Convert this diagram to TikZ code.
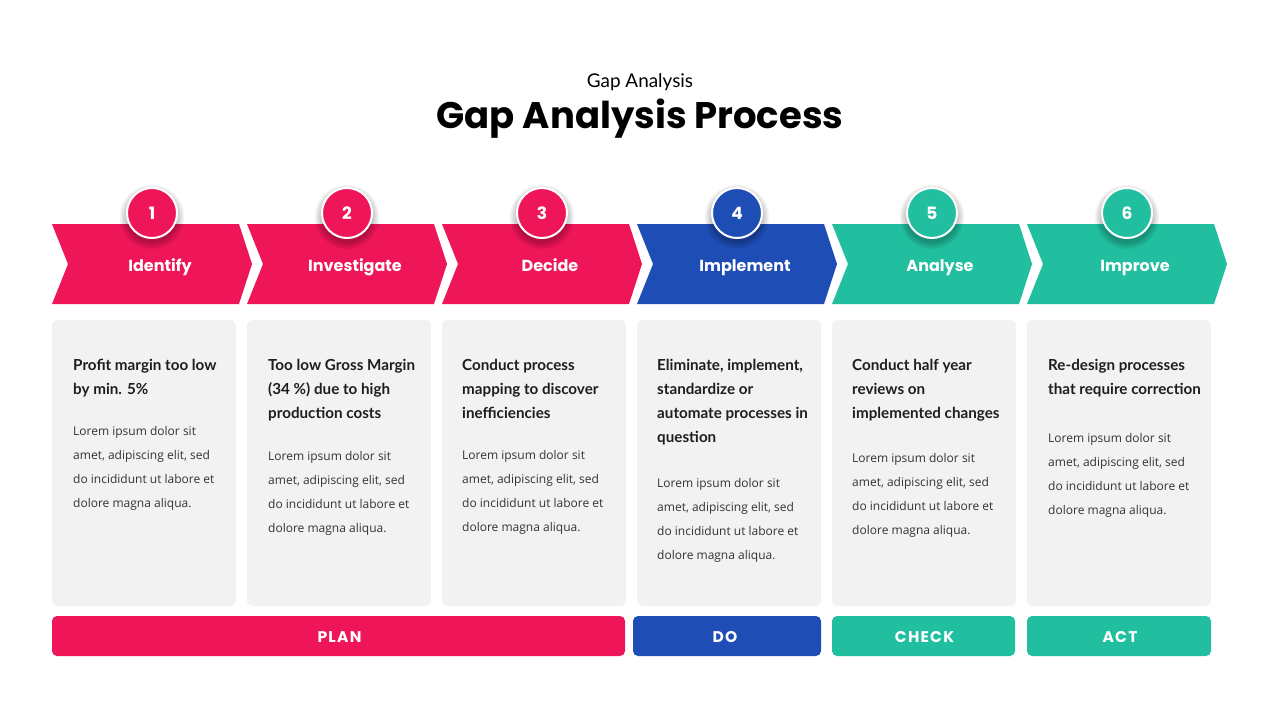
\documentclass[tikz,border=0pt]{standalone}
\usepackage{fontspec}
\newfontfamily\pop{Poppins}
\newfontfamily\popls{Poppins}[LetterSpace=8]
\newfontfamily\lato{Lato}
\newfontfamily\opens{Open Sans}
\definecolor{pinkc}{HTML}{EE1558}
\definecolor{bluec}{HTML}{1F4DB6}
\definecolor{tealc}{HTML}{21BF9F}
\definecolor{cardc}{HTML}{F2F2F2}
\definecolor{headc}{HTML}{1E1E1E}
\definecolor{bodyc}{HTML}{333333}
\tikzset{
  numcirc/.style={circle, minimum size=50pt, inner sep=0pt, draw=white, line width=2pt, text=white, font=\pop\bfseries\fontsize{17}{17}\selectfont},
  chevlabel/.style={anchor=base, text=white, font=\pop\bfseries\fontsize{16}{16}\selectfont, inner sep=0pt},
  card/.style={fill=cardc, rounded corners=6pt, draw=none},
  heading/.style={anchor=base west, inner sep=0pt, text=headc},
  bodytxt/.style={anchor=base west, inner sep=0pt, text=bodyc},
  phasebar/.style={rounded corners=5pt, draw=none},
  phaselabel/.style={anchor=base, text=white, font=\popls\bfseries\fontsize{15.5}{15.5}\selectfont, inner sep=0pt},
}
\newcommand{\headtext}[1]{\parbox[t]{180pt}{\lato\bfseries\fontsize{15.2}{24}\selectfont #1}}
\newcommand{\bodytext}{\parbox[t]{180pt}{\opens\fontsize{12}{24}\selectfont Lorem ipsum dolor sit\\amet, adipiscing elit, sed\\do incididunt ut labore et\\dolore magna aliqua.}}
\begin{document}
\begin{tikzpicture}[x=1pt,y=-1pt]
\useasboundingbox (0,0) rectangle (1280,720);
\fill[white] (0,0) rectangle (1280,720);
% titles
\node[inner sep=0pt, anchor=base, font=\lato\fontsize{18.9}{18.9}\selectfont, text=black] (sub) at (640,87) {Gap Analysis};
\node[inner sep=0pt, anchor=base, font=\pop\bfseries\fontsize{37}{37}\selectfont, text=black] (title) at (640,128) {Gap Analysis Process};
% chevrons
\foreach \i/\s/\c/\lab in {1/52/pinkc/Identify, 2/247/pinkc/Investigate, 3/442/pinkc/Decide, 4/637/bluec/Implement, 5/832/tealc/Analyse, 6/1027/tealc/Improve}{
  \fill[\c] (\s,224) -- (\s+187,224) -- (\s+200,264) -- (\s+187,304) -- (\s,304) -- (\s+16,264) -- cycle;
  \node[chevlabel] (lab\i) at (\s+108,271) {\lab};
  % soft shadow
  \foreach \r in {26,27.5,29,30.5,32}{
    \fill[black, opacity=0.05] (\s+100,217) circle (\r);
  }
  \node[numcirc, fill=\c] (num\i) at (\s+100,213) {\i};
  % cards
  \fill[card] (\s,320) rectangle (\s+184,606);
}
% card texts
\node[heading] (h1) at (73,370) {\headtext{Profit margin too low\\by min. 5\%}};
\node[bodytxt] (b1) at (73,435) {\bodytext};
\node[heading] (h2) at (268,370) {\headtext{Too low Gross Margin\\(34 \%) due to high\\production costs}};
\node[bodytxt] (b2) at (268,460) {\bodytext};
\node[heading] (h3) at (462,370) {\headtext{Conduct process\\mapping to discover\\inefficiencies}};
\node[bodytxt] (b3) at (462,459) {\bodytext};
\node[heading] (h4) at (657,370) {\headtext{Eliminate, implement,\\standardize or\\automate processes in\\question}};
\node[bodytxt] (b4) at (657,487) {\bodytext};
\node[heading] (h5) at (852,370) {\headtext{Conduct half year\\reviews on\\implemented changes}};
\node[bodytxt] (b5) at (852,462) {\bodytext};
\node[heading] (h6) at (1048,370) {\headtext{Re-design processes\\that require correction}};
\node[bodytxt] (b6) at (1048,442) {\bodytext};
% phase bars
\fill[phasebar, fill=pinkc] (52,616) rectangle (625,656);
\fill[phasebar, fill=bluec] (633,616) rectangle (821,656);
\fill[phasebar, fill=tealc] (832,616) rectangle (1015,656);
\fill[phasebar, fill=tealc] (1027,616) rectangle (1211,656);
\node[phaselabel] (plan) at (339.5,642.5) {PLAN};
\node[phaselabel] (do) at (725,642.5) {DO};
\node[phaselabel] (check) at (924.5,642.5) {CHECK};
\node[phaselabel] (act) at (1120,642.5) {ACT};
\end{tikzpicture}
\end{document}
